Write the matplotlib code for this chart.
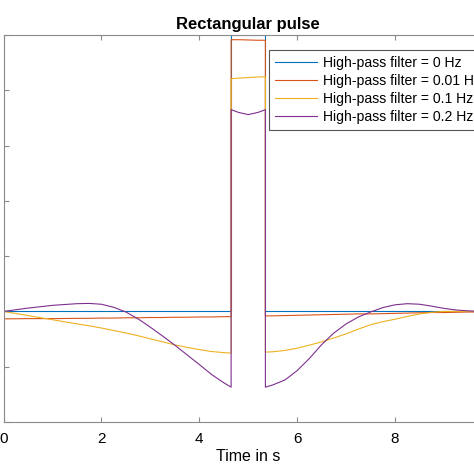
import matplotlib
matplotlib.use("Agg")
import matplotlib.pyplot as plt
import numpy as np

plt.rcParams['font.family'] = ['Liberation Sans', 'DejaVu Sans']

# time axis (s), edges of the pulse are repeated to get the vertical jumps
t = [0, 0.5, 1.0, 1.5, 1.75, 2.0, 2.25, 2.5, 2.75, 3.0, 3.25, 3.5, 3.75, 4.0, 4.25, 4.5, 4.65,
     4.65, 4.8, 5.0, 5.2, 5.35,
     5.35, 5.5, 5.75, 6.0, 6.25, 6.5, 6.75, 7.0, 7.25, 7.5, 7.75, 8.0, 8.25, 8.5, 8.75,
     9.0, 9.25, 9.5, 9.75, 10.0]

hp_0 = [0]*17 + [1, 1, 1, 1, 1] + [0]*20

hp_001 = [-0.027, -0.026, -0.026, -0.025, -0.025, -0.024, -0.024, -0.023, -0.023, -0.022,
          -0.022, -0.021, -0.021, -0.020, -0.020, -0.019, -0.019,
          0.983, 0.983, 0.982, 0.981, 0.981,
          -0.016, -0.016, -0.015, -0.014, -0.013, -0.012, -0.011, -0.010, -0.009, -0.009,
          -0.008, -0.007, -0.006, -0.005, -0.004, -0.004, -0.003, -0.002, -0.002, -0.001]

hp_01 = [0.0, -0.015, -0.030, -0.045, -0.052, -0.060, -0.069, -0.078, -0.088, -0.099,
         -0.110, -0.121, -0.130, -0.138, -0.145, -0.149, -0.151,
         0.842, 0.844, 0.846, 0.848, 0.849,
         -0.147, -0.146, -0.141, -0.133, -0.122, -0.110, -0.096, -0.081, -0.064, -0.048,
         -0.037, -0.028, -0.018, -0.009, -0.003, 0.0, 0.0, 0.0, 0.0, 0.0]

hp_02 = [0.0, 0.012, 0.022, 0.028, 0.029, 0.026, 0.015, -0.002, -0.027, -0.057,
         -0.089, -0.122, -0.157, -0.192, -0.228, -0.258, -0.274,
         0.730, 0.720, 0.712, 0.720, 0.730,
         -0.274, -0.266, -0.248, -0.214, -0.170, -0.120, -0.078, -0.045, -0.020, -0.002,
         0.014, 0.024, 0.028, 0.026, 0.019, 0.011, 0.005, 0.002, 0.0, 0.0]

labels = ['High-pass filter = 0 Hz', 'High-pass filter = 0.01 Hz',
          'High-pass filter = 0.1 Hz', 'High-pass filter = 0.2 Hz']
colors = ['#0072BD', '#D95319', '#EDB120', '#7E2F8E']

fig = plt.figure(figsize=(4.74, 4.74), dpi=100)
ax = fig.add_axes([3.5/474, 52/474, 489.5/474, 387/474])

for y, lab, c in zip([hp_0, hp_001, hp_01, hp_02], labels, colors):
    ax.plot(t, y, color=c, lw=0.8, label=lab)

ax.set_xlim(0, 10)
ax.set_ylim(-0.4, 1.0)
ax.set_xticks([0, 2, 4, 6, 8, 10])
ax.set_yticks(np.arange(-0.4, 1.01, 0.2))

gray = '#8a8a8a'
for s in ax.spines.values():
    s.set_color(gray)
    s.set_linewidth(0.8)
ax.tick_params(direction='in', length=3.5, width=0.8, color=gray,
               top=True, right=True, labelsize=11, pad=7.5)

ax.set_title('Rectangular pulse', fontsize=12, fontweight='bold', pad=4)
ax.set_xlabel('Time in s', fontsize=11.5, labelpad=2)

leg = ax.legend(loc='upper left', bbox_to_anchor=(269/474, 424/474),
                bbox_transform=fig.transFigure, borderaxespad=0, fontsize=10.1,
                fancybox=False, framealpha=1, edgecolor='#555555', handlelength=3.0,
                handletextpad=0.45, labelspacing=0.3, borderpad=0.4)
leg.get_frame().set_linewidth(0.8)

fig.savefig('out.png', dpi=100)
